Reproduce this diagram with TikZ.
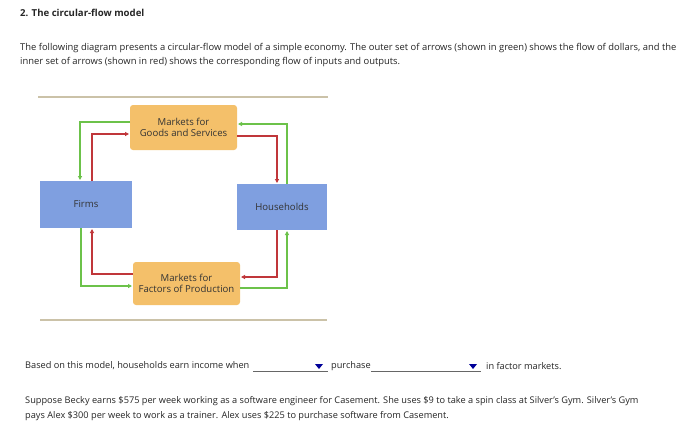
\documentclass[tikz,border=0pt]{standalone}
\usepackage{fontspec}
\setmainfont{Open Sans}
\usetikzlibrary{arrows.meta}
\definecolor{gr}{HTML}{6CC24A}
\definecolor{rd}{HTML}{C0363A}
\definecolor{org}{HTML}{F4C06A}
\definecolor{blu}{HTML}{7F9FE0}
\definecolor{tan}{HTML}{CBC2A8}
\begin{document}
\begin{tikzpicture}[x=1pt,y=-1pt,
  txt/.style={anchor=west,inner sep=0,font=\fontsize{9.4}{11}\selectfont,text=black!85},
  mk/.style={fill=org,rounded corners=3pt,draw=none},
  gl/.style={draw=gr,line width=1.4pt,-{Triangle[length=4pt,width=4pt]}},
  rl/.style={draw=rd,line width=1.4pt,-{Triangle[length=4pt,width=4pt]}},
  bl/.style={font=\fontsize{9.6}{10.5}\selectfont,text=black!80,align=center}]
\useasboundingbox (0,0) rectangle (700,429);
\fill[white] (0,0) rectangle (700,429);
\node[txt,font=\fontsize{9.6}{11}\selectfont\bfseries] (title) at (20,13) {2. The circular-flow model};
\node[txt] (p1) at (20,48) {The following diagram presents a circular-flow model of a simple economy. The outer set of arrows (shown in green) shows the flow of dollars, and the};
\node[txt] (p2) at (20,62) {inner set of arrows (shown in red) shows the corresponding flow of inputs and outputs.};
\draw[tan,line width=1.6pt] (38,97) -- (328,97);
\draw[tan,line width=1.6pt] (40,320) -- (327,320);
\path[mk] (130,105) rectangle (237,150);
\node[bl] (goods) at (183.5,127.5) {Markets for\\Goods and Services};
\path[mk] (133,262) rectangle (240,305);
\node[bl] (fact) at (186.5,283.5) {Markets for\\Factors of Production};
\fill[blu] (40,181) rectangle (132,228);
\node[bl] (firms) at (86,204.5) {Firms};
\fill[blu] (237,184) rectangle (327,230);
\node[bl] (hh) at (282,207) {Households};
\draw[gl] (130,122) -- (80,122) -- (80,180);
\draw[rl] (92,181) -- (92,134) -- (129,134);
\draw[rl] (237,136) -- (277,136) -- (277,183);
\draw[gl] (287,184) -- (287,124) -- (238,124);
\draw[rl] (277,230) -- (277,277) -- (241,277);
\draw[gl] (240,288) -- (287,288) -- (287,231);
\draw[rl] (133,274) -- (92,274) -- (92,229);
\draw[gl] (81,228) -- (81,286) -- (132,286);
\node[txt,font=\fontsize{9.2}{11}\selectfont] (q1) at (25,366) {Based on this model, households earn income when};
\draw[black!60,line width=0.5pt] (253,371) -- (328,371);
\fill[blue!60!black] (315,364) -- (323,364) -- (319,369) -- cycle;
\node[txt,font=\fontsize{9.2}{11}\selectfont] (q2) at (331,366) {purchase};
\draw[black!60,line width=0.5pt] (371,371) -- (481,371);
\fill[blue!60!black] (469,364) -- (477,364) -- (473,369) -- cycle;
\node[txt,font=\fontsize{9.2}{11}\selectfont] (q3) at (486,366) {in factor markets.};
\node[txt,font=\fontsize{9.2}{11}\selectfont] (s1) at (25,401) {Suppose Becky earns \$575 per week working as a software engineer for Casement. She uses \$9 to take a spin class at Silver's Gym. Silver's Gym};
\node[txt,font=\fontsize{9.2}{11}\selectfont] (s2) at (25,416) {pays Alex \$300 per week to work as a trainer. Alex uses \$225 to purchase software from Casement.};
\end{tikzpicture}
\end{document}
